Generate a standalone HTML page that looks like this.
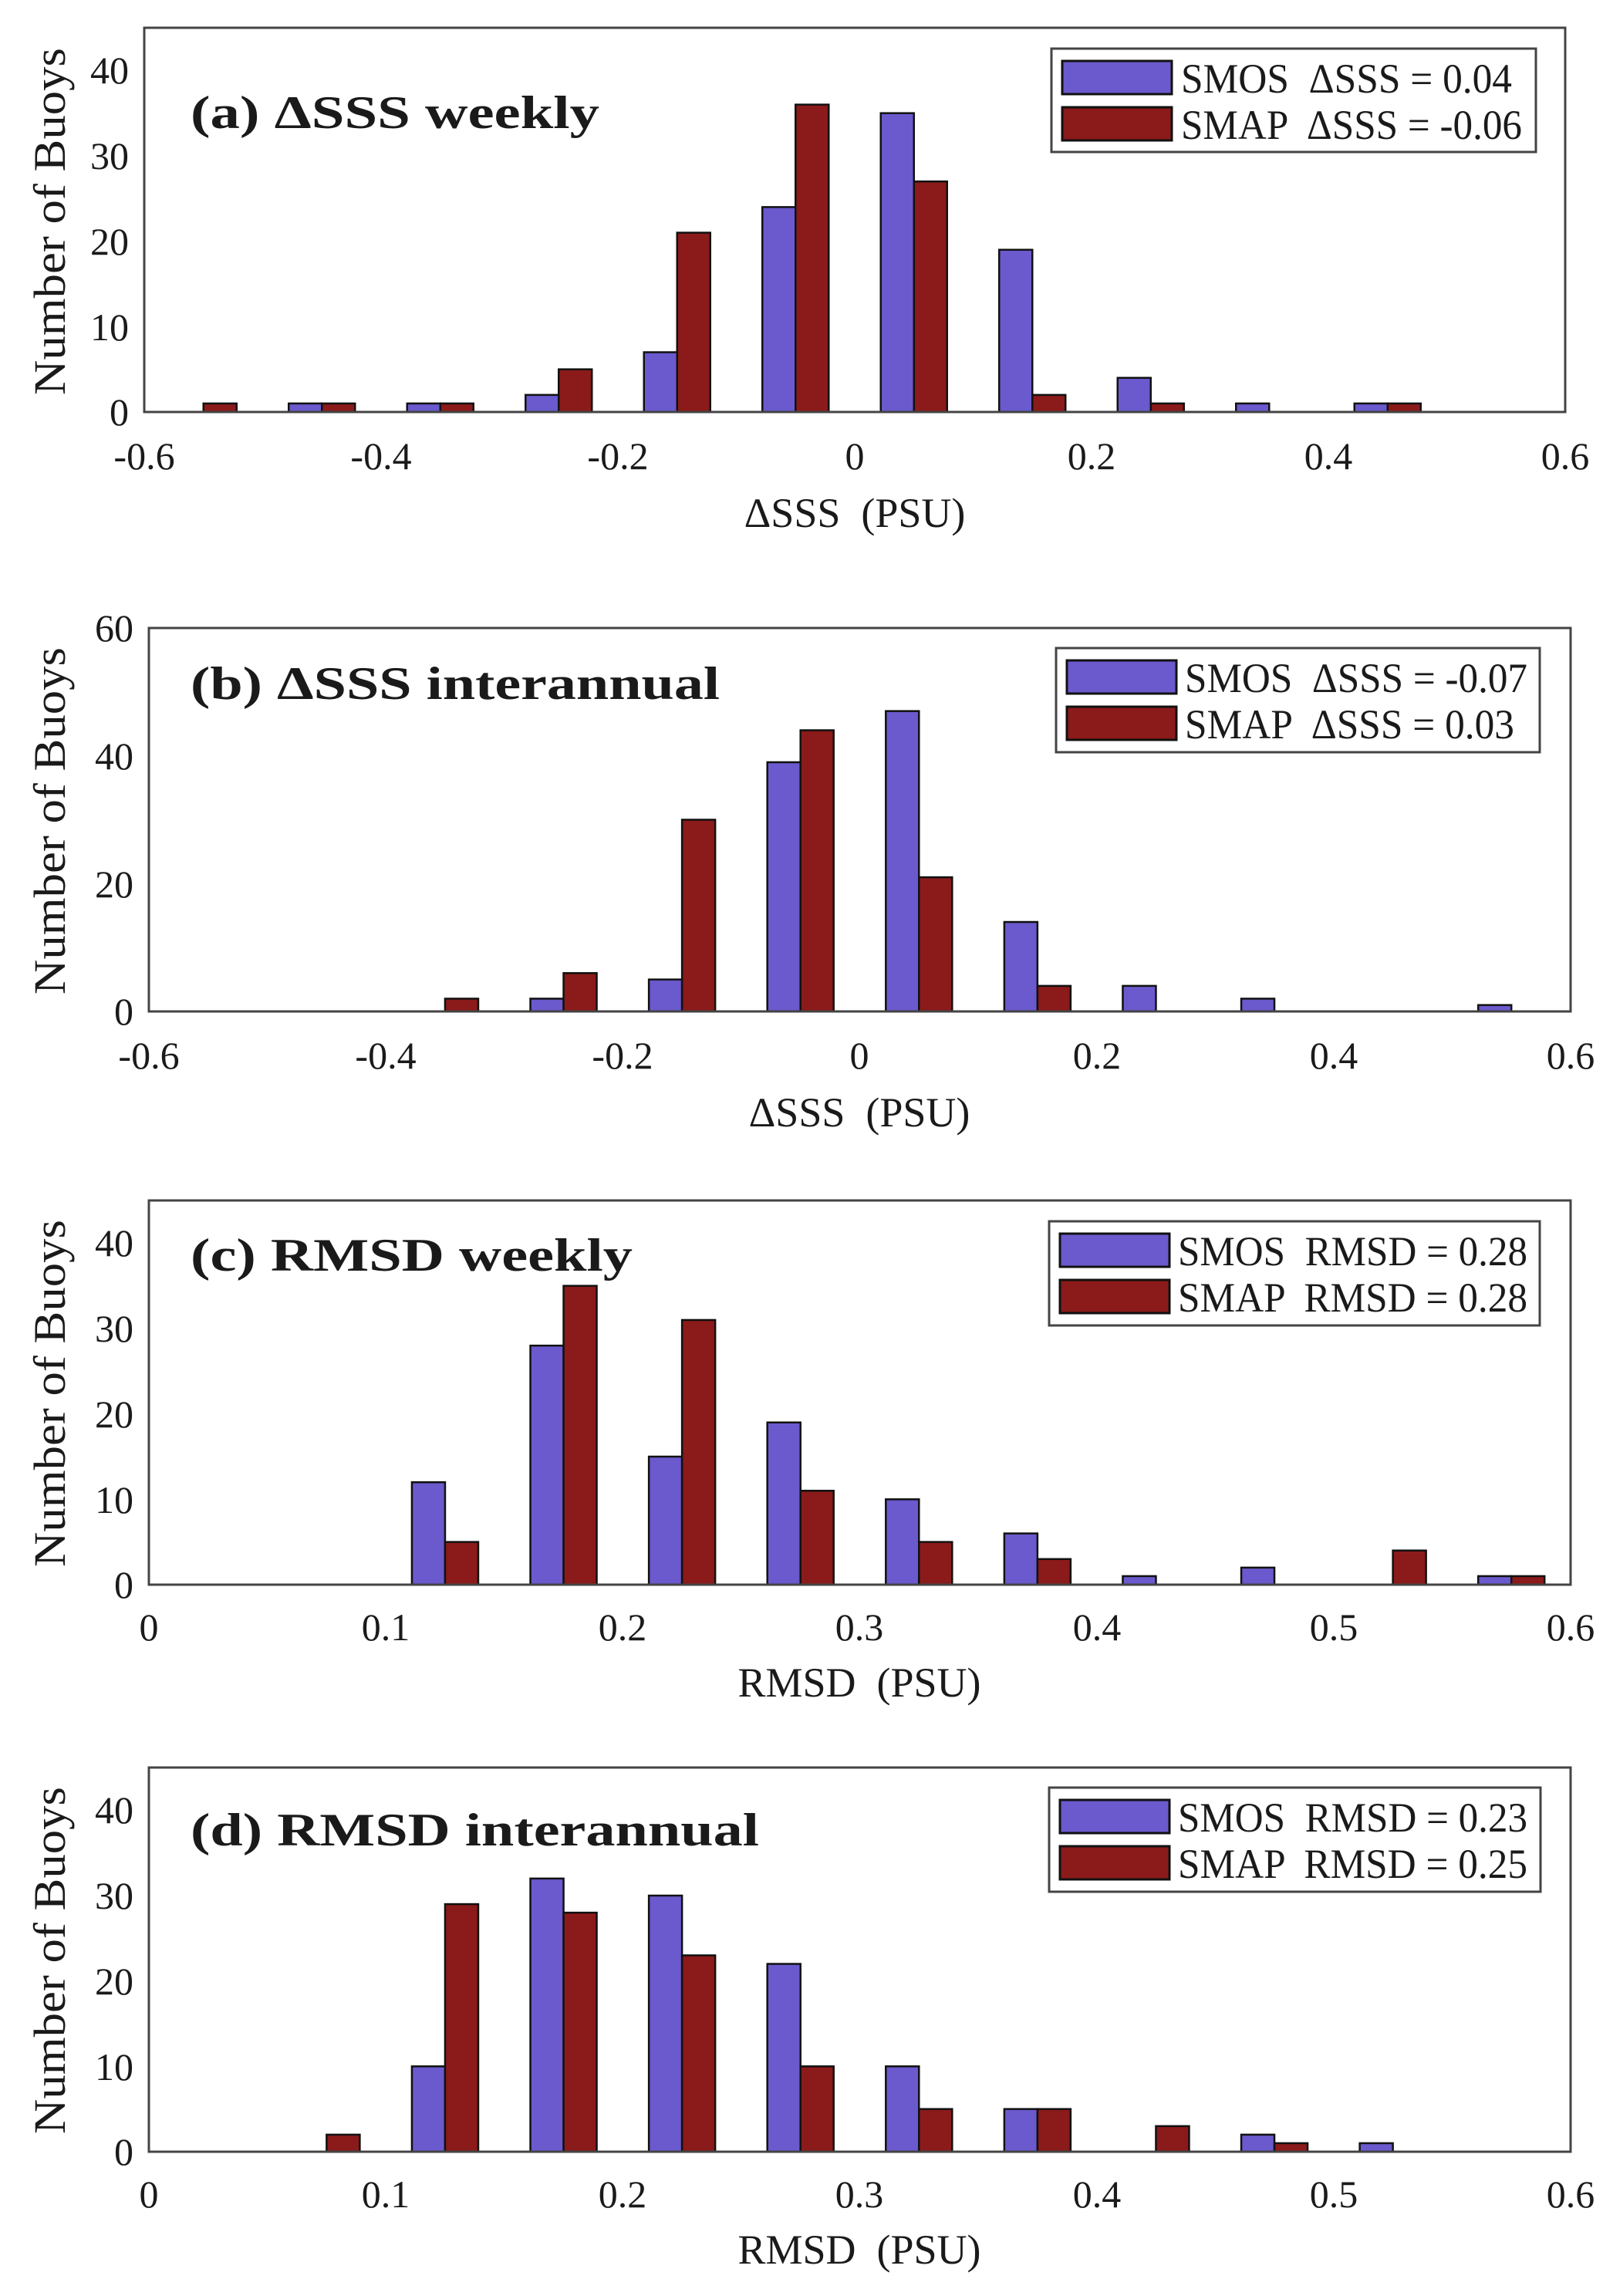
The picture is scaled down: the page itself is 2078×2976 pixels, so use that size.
<!DOCTYPE html>
<html><head><meta charset="utf-8"><style>
html,body{margin:0;padding:0;background:#fff;}
svg{display:block;}
text{font-family:"Liberation Serif","DejaVu Serif",serif;fill:#1a1a1a;white-space:pre;}
</style></head><body>
<svg id="s" width="2078" height="2976" viewBox="0 0 2078 2976" xmlns="http://www.w3.org/2000/svg" xml:space="preserve">
<rect width="2078" height="2976" fill="#fff"/>

<!-- Panel a -->
<g transform="translate(0,36)">
 <g id="pa"></g>
 <rect x="187" y="0" width="1842" height="498" fill="none" stroke="#444" stroke-width="3"/>
 <g font-size="50" text-anchor="end">
  <text x="167" y="515">0</text><text x="167" y="405">10</text><text x="167" y="294">20</text><text x="167" y="183">30</text><text x="167" y="72">40</text>
 </g>
 <g font-size="50" text-anchor="middle">
  <text x="187" y="572">-0.6</text><text x="494" y="572">-0.4</text><text x="801" y="572">-0.2</text><text x="1108" y="572">0</text><text x="1415" y="572">0.2</text><text x="1722" y="572">0.4</text><text x="2029" y="572">0.6</text>
 </g>
 <text x="1108" y="647" font-size="54" text-anchor="middle">ΔSSS  (PSU)</text>
 <text transform="translate(84,251) rotate(-90)" font-size="58" text-anchor="middle" textLength="450" lengthAdjust="spacingAndGlyphs">Number of Buoys</text>
 <text x="247" y="130" font-size="60" font-weight="bold" textLength="530" lengthAdjust="spacingAndGlyphs">(a) ΔSSS weekly</text>
 <rect x="1363" y="27" width="628" height="134" fill="#fff" stroke="#444" stroke-width="3"/>
 <rect x="1377" y="43" width="142" height="43" fill="#6a5acd" stroke="#111" stroke-width="3"/>
 <rect x="1377" y="103" width="142" height="43" fill="#8b1a1a" stroke="#111" stroke-width="3"/>
 <text x="1531" y="84" font-size="54" textLength="429" lengthAdjust="spacingAndGlyphs">SMOS  ΔSSS = 0.04</text>
 <text x="1531" y="144" font-size="54" textLength="442" lengthAdjust="spacingAndGlyphs">SMAP  ΔSSS = -0.06</text>
</g>

<!-- Panel b -->
<g transform="translate(0,814)">
 <g id="pb"></g>
 <rect x="193" y="0" width="1843" height="497" fill="none" stroke="#444" stroke-width="3"/>
 <g font-size="50" text-anchor="end">
  <text x="173" y="514">0</text><text x="173" y="349">20</text><text x="173" y="183">40</text><text x="173" y="17">60</text>
 </g>
 <g font-size="50" text-anchor="middle">
  <text x="193" y="571">-0.6</text><text x="500" y="571">-0.4</text><text x="807" y="571">-0.2</text><text x="1114" y="571">0</text><text x="1422" y="571">0.2</text><text x="1729" y="571">0.4</text><text x="2036" y="571">0.6</text>
 </g>
 <text x="1114" y="646" font-size="54" text-anchor="middle">ΔSSS  (PSU)</text>
 <text transform="translate(84,250) rotate(-90)" font-size="58" text-anchor="middle" textLength="450" lengthAdjust="spacingAndGlyphs">Number of Buoys</text>
 <text x="247" y="92" font-size="60" font-weight="bold" textLength="686" lengthAdjust="spacingAndGlyphs">(b) ΔSSS interannual</text>
 <rect x="1369" y="26" width="627" height="135" fill="#fff" stroke="#444" stroke-width="3"/>
 <rect x="1383" y="42" width="142" height="43" fill="#6a5acd" stroke="#111" stroke-width="3"/>
 <rect x="1383" y="102" width="142" height="43" fill="#8b1a1a" stroke="#111" stroke-width="3"/>
 <text x="1536" y="83" font-size="54" textLength="444" lengthAdjust="spacingAndGlyphs">SMOS  ΔSSS = -0.07</text>
 <text x="1536" y="143" font-size="54" textLength="427" lengthAdjust="spacingAndGlyphs">SMAP  ΔSSS = 0.03</text>
</g>

<!-- Panel c -->
<g transform="translate(0,1556)">
 <g id="pc"></g>
 <rect x="193" y="0" width="1843" height="498" fill="none" stroke="#444" stroke-width="3"/>
 <g font-size="50" text-anchor="end">
  <text x="173" y="515">0</text><text x="173" y="405">10</text><text x="173" y="294">20</text><text x="173" y="183">30</text><text x="173" y="72">40</text>
 </g>
 <g font-size="50" text-anchor="middle">
  <text x="193" y="570">0</text><text x="500" y="570">0.1</text><text x="807" y="570">0.2</text><text x="1114" y="570">0.3</text><text x="1422" y="570">0.4</text><text x="1729" y="570">0.5</text><text x="2036" y="570">0.6</text>
 </g>
 <text x="1114" y="643" font-size="54" text-anchor="middle">RMSD  (PSU)</text>
 <text transform="translate(84,250) rotate(-90)" font-size="58" text-anchor="middle" textLength="450" lengthAdjust="spacingAndGlyphs">Number of Buoys</text>
 <text x="247" y="91" font-size="60" font-weight="bold" textLength="573" lengthAdjust="spacingAndGlyphs">(c) RMSD weekly</text>
 <rect x="1360" y="27" width="636" height="135" fill="#fff" stroke="#444" stroke-width="3"/>
 <rect x="1374" y="43" width="142" height="43" fill="#6a5acd" stroke="#111" stroke-width="3"/>
 <rect x="1374" y="103" width="142" height="43" fill="#8b1a1a" stroke="#111" stroke-width="3"/>
 <text x="1527" y="84" font-size="54" textLength="453" lengthAdjust="spacingAndGlyphs">SMOS  RMSD = 0.28</text>
 <text x="1527" y="144" font-size="54" textLength="453" lengthAdjust="spacingAndGlyphs">SMAP  RMSD = 0.28</text>
</g>

<!-- Panel d -->
<g transform="translate(0,2291)">
 <g id="pd"></g>
 <rect x="193" y="0" width="1843" height="498" fill="none" stroke="#444" stroke-width="3"/>
 <g font-size="50" text-anchor="end">
  <text x="173" y="515">0</text><text x="173" y="405">10</text><text x="173" y="294">20</text><text x="173" y="183">30</text><text x="173" y="72">40</text>
 </g>
 <g font-size="50" text-anchor="middle">
  <text x="193" y="570">0</text><text x="500" y="570">0.1</text><text x="807" y="570">0.2</text><text x="1114" y="570">0.3</text><text x="1422" y="570">0.4</text><text x="1729" y="570">0.5</text><text x="2036" y="570">0.6</text>
 </g>
 <text x="1114" y="643" font-size="54" text-anchor="middle">RMSD  (PSU)</text>
 <text transform="translate(84,250) rotate(-90)" font-size="58" text-anchor="middle" textLength="450" lengthAdjust="spacingAndGlyphs">Number of Buoys</text>
 <text x="247" y="101" font-size="60" font-weight="bold" textLength="737" lengthAdjust="spacingAndGlyphs">(d) RMSD interannual</text>
 <rect x="1360" y="26" width="637" height="135" fill="#fff" stroke="#444" stroke-width="3"/>
 <rect x="1374" y="42" width="142" height="43" fill="#6a5acd" stroke="#111" stroke-width="3"/>
 <rect x="1374" y="102" width="142" height="43" fill="#8b1a1a" stroke="#111" stroke-width="3"/>
 <text x="1527" y="83" font-size="54" textLength="453" lengthAdjust="spacingAndGlyphs">SMOS  RMSD = 0.23</text>
 <text x="1527" y="143" font-size="54" textLength="453" lengthAdjust="spacingAndGlyphs">SMAP  RMSD = 0.25</text>
</g>
</svg>
<script>
(function(){
var NS="http://www.w3.org/2000/svg";
var P=[
 {id:"pa",x0:187,x1:2029,h:498,ymax:45,
  s:[0,1,1,2,7,24,35,19,4,1,1,0],m:[1,1,1,5,21,36,27,2,1,0,1,0]},
 {id:"pb",x0:193,x1:2036,h:497,ymax:60,
  s:[0,0,0,2,5,39,47,14,4,2,0,1],m:[0,0,2,6,30,44,21,4,0,0,0,0]},
 {id:"pc",x0:193,x1:2036,h:498,ymax:45,
  s:[0,0,12,28,15,19,10,6,1,2,0,1],m:[0,0,5,35,31,11,5,3,0,0,4,1]},
 {id:"pd",x0:193,x1:2036,h:498,ymax:45,
  s:[0,0,10,32,30,22,10,5,0,2,1,0],m:[0,2,29,28,23,10,5,5,3,1,0,0]}
];
P.forEach(function(p){
 var g=document.getElementById(p.id);
 var bw=(p.x1-p.x0)/12, w=43, k=p.h/p.ymax;
 for(var i=0;i<12;i++){
  var c=p.x0+bw*(i+0.5);
  [[p.s[i],c-w,"#6a5acd"],[p.m[i],c,"#8b1a1a"]].forEach(function(b){
   if(!b[0])return;
   var r=document.createElementNS(NS,"rect");
   var hh=b[0]*k;
   r.setAttribute("x",b[1]);r.setAttribute("y",p.h-hh);
   r.setAttribute("width",w);r.setAttribute("height",hh);
   r.setAttribute("fill",b[2]);r.setAttribute("stroke","#111");r.setAttribute("stroke-width","2.5");
   g.appendChild(r);
  });
 }
});
})();
</script>
</body></html>
